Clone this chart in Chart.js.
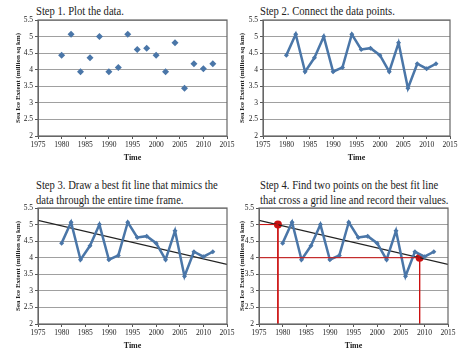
<!DOCTYPE html>
<html lang="en">
<head>
  <meta charset="UTF-8">
  <title>Sea Ice Extent - best fit steps</title>
  <style>
    body {
      margin: 0;
      padding: 0;
      background: #fff;
      font-family: 'Liberation Serif', serif;
    }

    .page {
      position: relative;
      width: 474px;
      height: 363px;
      overflow: hidden;
    }

    .panel {
      position: absolute;
      width: 237px;
      height: 152px;
    }

    .step-title {
      position: absolute;
      font-size: 12.5px;
      line-height: 15px;
      color: #222;
      white-space: nowrap;
      transform: scaleX(0.85);
      transform-origin: left top;
    }
  </style>
</head>
<body>
  <div class="page">
    <div class="step-title" style="left:36px; top:4px;">Step 1. Plot the data.</div>
    <div class="step-title" style="left:260px; top:4px;">Step 2. Connect the data points.</div>
    <div class="step-title" style="left:36px; top:178px;">Step 3. Draw a best fit line that mimics the<br>data through the entire time frame.</div>
    <div class="step-title" style="left:260px; top:178px;">Step 4. Find two points on the best fit line<br>that cross a grid line and record their values.</div>

    <div class="panel" style="left:0; top:12px;"><canvas id="chart1"></canvas></div>
    <div class="panel" style="left:237px; top:12px;"><canvas id="chart2"></canvas></div>
    <div class="panel" style="left:0; top:200px;"><canvas id="chart3"></canvas></div>
    <div class="panel" style="left:237px; top:200px;"><canvas id="chart4"></canvas></div>
  </div>

  <script src="https://cdn.jsdelivr.net/npm/chart.js"></script>

  <script>
    // data
    const years = [1980, 1982, 1984, 1986, 1988, 1990, 1992, 1994, 1996, 1998, 2000, 2002, 2004, 2006, 2008, 2010, 2012];
    const extent = [4.44, 5.07, 3.94, 4.36, 5.0, 3.94, 4.07, 5.07, 4.61, 4.65, 4.44, 3.94, 4.81, 3.44, 4.18, 4.03, 4.18];

    // best fit line (hand drawn in the original)
    const fitYears = [1975, 2015];
    const fitValues = [5.13, 3.8];

    // the two points picked on the fit line
    const pickYears = [1979, 2009];
    const pickValues = [5, 4];

    const axisMin = 2;
    const xTicks = [1975, 1980, 1985, 1990, 1995, 2000, 2005, 2010, 2015];
    const yTicks = [2, 2.5, 3, 3.5, 4, 4.5, 5, 5.5];

    const blue = '#4a76a8';
    const red = '#cc1111';

    const toPoints = (xs, ys) => xs.map((x, i) => ({ x: x, y: ys[i] }));

    // outline the whole plot area like the spreadsheet charts
    const frame = {
      id: 'frame',
      afterDatasetsDraw(chart) {
        const a = chart.chartArea;
        const ctx = chart.ctx;
        ctx.save();
        ctx.strokeStyle = '#666';
        ctx.lineWidth = 1.2;
        ctx.strokeRect(a.left, a.top, a.right - a.left, a.bottom - a.top);
        ctx.restore();
      }
    };

    function makeChart(id, yWidth, rightPad, titlePad, datasets) {
      return new Chart(document.getElementById(id), {
        type: 'scatter',
        data: { datasets: datasets },
        options: {
          responsive: true,
          maintainAspectRatio: false,
          animation: false,
          layout: { padding: { top: 8, right: rightPad, bottom: 0, left: 0 } },
          plugins: { legend: { display: false }, tooltip: { enabled: false } },
          scales: {
            x: {
              type: 'linear',
              min: 1975,
              max: 2015,
              afterFit: s => { s.height = 28; },
              afterBuildTicks: s => { s.ticks = xTicks.map(v => ({ value: v })); },
              grid: { drawOnChartArea: false, drawTicks: true, tickLength: 3, color: '#555' },
              border: { color: '#666' },
              ticks: {
                color: '#222', padding: 2, maxRotation: 0,
                callback: v => String(v),
                font: { family: 'Liberation Serif', size: 7.5 }
              },
              title: { display: true, text: 'Time', color: '#222', padding: 1, font: { family: 'Liberation Serif', size: 8, weight: 'bold' } }
            },
            y: {
              min: axisMin,
              max: 5.5,
              afterFit: s => { s.width = yWidth; },
              afterBuildTicks: s => { s.ticks = yTicks.map(v => ({ value: v })); },
              grid: { color: '#a0a0a0', tickLength: 3, tickColor: '#555' },
              border: { color: '#666' },
              ticks: {
                color: '#222', padding: 2,
                callback: v => String(v),
                font: { family: 'Liberation Serif', size: 7.5 }
              },
              title: { display: true, text: 'Sea Ice Extent (million sq km)', color: '#222', padding: titlePad, font: { family: 'Liberation Serif', size: 7, weight: 'bold' } }
            }
          }
        },
        plugins: [frame]
      });
    }

    const dataPoints = (showLine, radius) => ({
      data: toPoints(years, extent),
      showLine: showLine,
      borderColor: blue,
      borderWidth: 2.5,
      backgroundColor: blue,
      pointStyle: 'rectRot',
      pointRadius: radius,
      pointBorderWidth: 0
    });

    const fitLine = () => ({
      data: toPoints(fitYears, fitValues),
      showLine: true,
      borderColor: '#222',
      borderWidth: 1.2,
      pointRadius: 0
    });

    // guide lines from each picked point back to the axes
    const guide = i => ({
      data: [
        { x: fitYears[0], y: pickValues[i] },
        { x: pickYears[i], y: pickValues[i] },
        { x: pickYears[i], y: axisMin }
      ],
      showLine: true,
      borderColor: red,
      borderWidth: 1,
      pointRadius: 0
    });

    makeChart('chart1', 38, 10, { top: 14, bottom: 14 }, [dataPoints(false, 3.5)]);
    makeChart('chart2', 26, 24, { top: 1, bottom: 1 }, [dataPoints(true, 2.5)]);
    makeChart('chart3', 38, 10, { top: 14, bottom: 14 }, [dataPoints(true, 2.5), fitLine()]);
    makeChart('chart4', 22, 26, { top: 1, bottom: 1 }, [
      guide(0),
      guide(1),
      dataPoints(true, 2.5),
      fitLine(),
      {
        data: toPoints(pickYears, pickValues),
        backgroundColor: red,
        pointRadius: 4,
        pointBorderWidth: 0
      }
    ]);
  </script>
</body>
</html>
